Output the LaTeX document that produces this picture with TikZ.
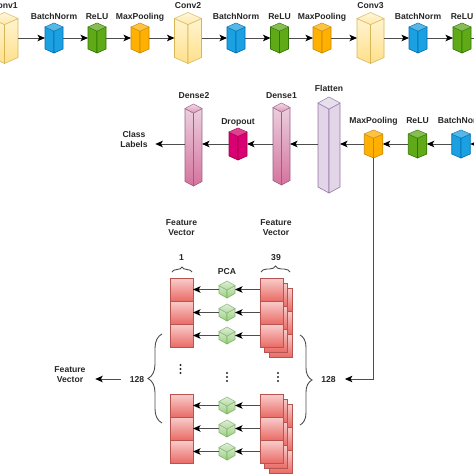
\documentclass[tikz,border=0pt]{standalone}
\usepackage{fontspec}
\setmainfont{Liberation Sans}
\usetikzlibrary{calc,arrows.meta,decorations.pathreplacing}
\definecolor{convF}{HTML}{FFF4D0}\definecolor{convF2}{HTML}{FFE08A}\definecolor{convS}{HTML}{D6B656}
\definecolor{bnF}{HTML}{1BA1E2}\definecolor{bnS}{HTML}{006EAF}
\definecolor{reluF}{HTML}{60A917}\definecolor{reluS}{HTML}{2D7600}
\definecolor{mpF}{HTML}{FFB000}\definecolor{mpS}{HTML}{C98A00}
\definecolor{denF}{HTML}{EBCFDF}\definecolor{denF2}{HTML}{D5739D}\definecolor{denS}{HTML}{996185}
\definecolor{dropF}{HTML}{D80073}\definecolor{dropS}{HTML}{A50040}
\definecolor{flatF}{HTML}{E1D5E7}\definecolor{flatS}{HTML}{9673A6}
\definecolor{pcaF}{HTML}{D5E8D4}\definecolor{pcaF2}{HTML}{97D077}\definecolor{pcaS}{HTML}{82B366}
\definecolor{fvF}{HTML}{F8CECC}\definecolor{fvF2}{HTML}{EA6B66}\definecolor{fvS}{HTML}{B85450}
\definecolor{lineC}{HTML}{4D4D4D}
\newcommand{\isocube}[6]{%
  \node[box, minimum width=#3pt, minimum height=#4pt] (#1) at #2 {};
  \path[#6] ($(#1.north west)+(0,#5)$) -- ($(#1.north)+(0,2*#5)$) -- (#1.south) -- ($(#1.south west)+(0,-#5)$) -- cycle;
  \path[#6] ($(#1.north)+(0,2*#5)$) -- ($(#1.north east)+(0,#5)$) -- ($(#1.south east)+(0,-#5)$) -- (#1.south) -- cycle;
  \path[#6] (#1.north) -- ($(#1.north east)+(0,#5)$) -- ($(#1.north)+(0,2*#5)$) -- ($(#1.north west)+(0,#5)$) -- cycle;
  \fill[white,opacity=0.25] (#1.north) -- ($(#1.north east)+(0,#5)$) -- ($(#1.north)+(0,2*#5)$) -- ($(#1.north west)+(0,#5)$) -- cycle;
}
\begin{document}
\begin{tikzpicture}[x=1pt,y=-1pt,
  font=\fontsize{8.6}{10}\selectfont\bfseries,
  box/.style={inner sep=0pt, outer sep=0pt, draw=none},
  lbl/.style={inner sep=0pt, align=center, text=black!85, text height=6.2pt, text depth=0pt},
  arr/.style={draw=lineC, line width=1pt, -{Stealth[length=7.5pt,width=6.5pt,inset=1.8pt,color=black]}},
  plain/.style={draw=lineC, line width=1pt},
  cubeline/.style={line width=0.6pt, line join=round},
  conv/.style={cubeline, draw=convS, top color=convF, bottom color=convF2},
  bn/.style={cubeline, draw=bnS, fill=bnF},
  relu/.style={cubeline, draw=reluS, fill=reluF},
  mp/.style={cubeline, draw=mpS, fill=mpF},
  dense/.style={cubeline, draw=denS, top color=denF, bottom color=denF2},
  drop/.style={cubeline, draw=dropS, fill=dropF},
  flat/.style={cubeline, draw=flatS, fill=flatF},
  pca/.style={cubeline, draw=pcaS, top color=pcaF, bottom color=pcaF2},
  fvbox/.style={draw=fvS, line width=0.6pt, top color=fvF, bottom color=fvF2, minimum size=23pt, inner sep=0pt, outer sep=0pt},
  brc/.style={draw=black!70, line width=0.9pt, decorate},
]
\useasboundingbox (0,0) rectangle (474,474);

% ---------------- Row 1 ----------------
\isocube{conv1}{(4.5,38)}{27}{51}{6}{conv}
\isocube{bn1}{(54,38)}{18}{30}{4}{bn}
\isocube{relu1}{(97,38)}{18}{30}{4}{relu}
\isocube{mp1}{(140,38)}{18}{30}{4}{mp}
\isocube{conv2}{(188,38)}{27}{51}{6}{conv}
\isocube{bn2}{(236,38)}{18}{30}{4}{bn}
\isocube{relu2}{(279.5,38)}{18}{30}{4}{relu}
\isocube{mp2}{(322,38)}{18}{30}{4}{mp}
\isocube{conv3}{(370.5,38)}{27}{51}{6}{conv}
\isocube{bn3}{(418,38)}{18}{30}{4}{bn}
\isocube{relu3}{(462,38)}{18}{30}{4}{relu}
\coordinate (r1out) at (476,38);

\node[lbl] (tconv1) at (4.5,5) {Conv1};
\node[lbl] (tbn1) at (54,16) {BatchNorm};
\node[lbl] (trelu1) at (97,16) {ReLU};
\node[lbl] (tmp1) at (140,16) {MaxPooling};
\node[lbl] (tconv2) at (188,5) {Conv2};
\node[lbl] (tbn2) at (236,16) {BatchNorm};
\node[lbl] (trelu2) at (279.5,16) {ReLU};
\node[lbl] (tmp2) at (322,16) {MaxPooling};
\node[lbl] (tconv3) at (370.5,5) {Conv3};
\node[lbl] (tbn3) at (418,16) {BatchNorm};
\node[lbl] (trelu3) at (462,16) {ReLU};

\draw[arr] (conv1) -- (bn1);
\draw[arr] (bn1) -- (relu1);
\draw[arr] (relu1) -- (mp1);
\draw[arr] (mp1) -- (conv2);
\draw[arr] (conv2) -- (bn2);
\draw[arr] (bn2) -- (relu2);
\draw[arr] (relu2) -- (mp2);
\draw[arr] (mp2) -- (conv3);
\draw[arr] (conv3) -- (bn3);
\draw[arr] (bn3) -- (relu3);
\draw[plain] (relu3) -- (r1out);

% ---------------- Row 2 ----------------
\isocube{bn4}{(461,144)}{18.5}{28}{4}{bn}
\isocube{relu4}{(417.5,144)}{18.5}{28}{4}{relu}
\isocube{mp4}{(373.5,144)}{18.5}{28}{4}{mp}
\isocube{flat}{(329,145)}{22}{96}{6}{flat}
\isocube{dense1}{(281.5,144)}{17}{82}{4.5}{dense}
\isocube{drop}{(238,144)}{18}{32}{4}{drop}
\isocube{dense2}{(193.5,145)}{17}{82}{4.5}{dense}
\coordinate (r2in) at (476,144);

\node[lbl] (tbn4) at (461,120) {BatchNorm};
\node[lbl] (trelu4) at (417.5,120) {ReLU};
\node[lbl] (tmp4) at (373.5,120) {MaxPooling};
\node[lbl] (tflat) at (329,88) {Flatten};
\node[lbl] (tden1) at (281.5,95) {Dense1};
\node[lbl] (tdrop) at (238,121) {Dropout};
\node[lbl] (tden2) at (194,95) {Dense2};
\node[lbl] (cls) at (134,144) {Class\\Labels};

\draw[arr] (r2in) -- (bn4);
\draw[arr] (bn4) -- (relu4);
\draw[arr] (relu4) -- (mp4);
\draw[arr] (mp4) -- (flat.east |- mp4);
\draw[arr] (flat.west |- mp4) -- (dense1);
\draw[arr] (dense1) -- (drop);
\draw[arr] (drop) -- (dense2.east |- drop);
\draw[arr, shorten >=7.5pt] (dense2.west |- cls) -- (cls);

% ---------------- Bottom ----------------
\node[lbl] (tfv1) at (181.5,232) {Feature\\Vector};
\node[lbl] (tone) at (181.5,257) {1};
\node[lbl] (tpca) at (227,271) {PCA};
\node[lbl] (tfv39) at (276,232) {Feature\\Vector};
\node[lbl] (t39) at (276,257) {39};
\node[lbl] (l128) at (137,379) {128};
\node[lbl] (r128) at (328.5,379) {128};
\node[lbl] (fvout) at (70,379) {Feature\\Vector};

% back layers of right stacks
\foreach \i/\y in {1/289.5,2/312.5,3/335.5,4/405.5,5/428.5,6/451.5}{
  \node[fvbox] (rbb\i) at (280.5,\y+10) {};
}
\foreach \i/\y in {1/289.5,2/312.5,3/335.5,4/405.5,5/428.5,6/451.5}{
  \node[fvbox] (rbm\i) at (276,\y+5) {};
}
\foreach \i/\y in {1/289.5,2/312.5,3/335.5,4/405.5,5/428.5,6/451.5}{
  \node[fvbox] (rf\i) at (271.5,\y) {};
  \node[fvbox] (lf\i) at (181.5,\y) {};
  \isocube{pc\i}{(227,\y)}{16}{17}{4.5}{pca}
  \draw[arr] (rf\i) -- (pc\i);
  \draw[arr] (pc\i) -- (lf\i);
}

% dots
\foreach \yy in {365,369,373}{\fill[black!85] (180.5,\yy) circle (1.1);}
\foreach \yy in {373,377,381}{\fill[black!85] (227,\yy) circle (1.1);}
\foreach \yy in {373,377,381}{\fill[black!85] (278,\yy) circle (1.1);}

% braces
\draw[brc, decoration={brace, amplitude=5pt}] (172,272) -- (192,272);
\draw[brc, decoration={brace, amplitude=6pt}] (261,272) -- (290,272);
\draw[brc, decoration={brace, amplitude=14pt}] (162,423) -- (162,334);
\draw[brc, decoration={brace, amplitude=12pt}] (300,335) -- (300,425);

% connections to 128 labels
\draw[arr] (mp4.south) |- ($(r128.east)+(9,0)$);
\draw[arr, shorten <=9pt, shorten >=9.5pt] (l128) -- (fvout);
\end{tikzpicture}
\end{document}
